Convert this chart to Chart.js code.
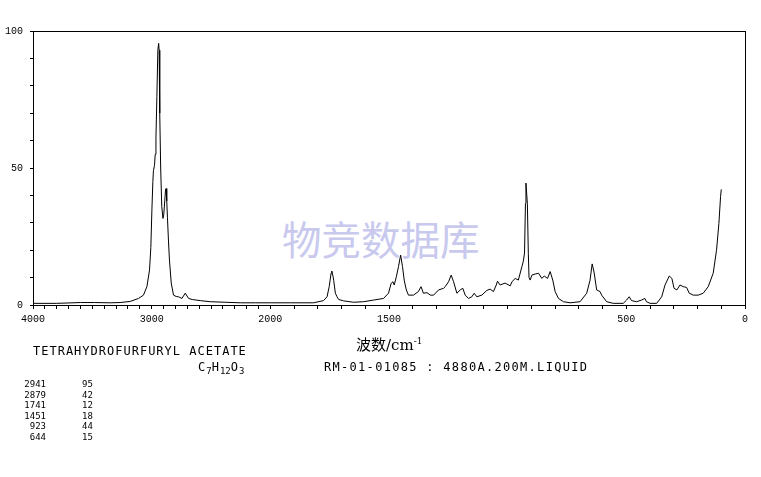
<!DOCTYPE html>
<html>
<head>
<meta charset="utf-8">
<script src="https://cdn.jsdelivr.net/npm/chart.js@4.4.1/dist/chart.umd.min.js"></script>
<style>
  body { margin: 0; background: #fff; }
  #wrap { position: relative; width: 761px; height: 477px; overflow: hidden; }
  #myChart { position: absolute; left: 0; top: 0; }
  .txt { position: absolute; white-space: nowrap; line-height: 1; color: #000; }
  .mono { font-family: "DejaVu Sans Mono", monospace; }
  #watermark { left: 282px; top: 218px; font-family: "Noto Sans CJK SC"; font-size: 39.5px; color: #c9c9ee; }
  #xtitle { left: 356px; top: 337px; font-family: "DejaVu Serif", "Noto Sans CJK SC"; font-size: 15px; }
  #xtitle sup { font-size: 9px; vertical-align: 6px; }
  #name { left: 33px; top: 345px; font-size: 12px; letter-spacing: 1px; }
  #formula { left: 198px; top: 361px; font-size: 12px; letter-spacing: 1px; }
  #formula sub { font-size: 9px; vertical-align: -3px; letter-spacing: 0; }
  #code { left: 324px; top: 361px; font-size: 12px; letter-spacing: 1.3px; }
  .peak { font-size: 9px; }
</style>
</head>
<body>
<div id="wrap">
  <div id="watermark" class="txt">物竞数据库</div>
  <canvas id="myChart" width="761" height="477"></canvas>
  <div id="xtitle" class="txt">波数/cm<sup>-1</sup></div>
  <div id="name" class="txt mono">TETRAHYDROFURFURYL ACETATE</div>
  <div id="formula" class="txt mono">C<sub>7</sub>H<sub>12</sub>O<sub>3</sub></div>
  <div id="code" class="txt mono">RM-01-01085 : 4880A.200M.LIQUID</div>
  <div id="peaks"></div>
</div>
<script>
// spectrum, wavenumber (cm-1) and intensity
var wavenumbers = [4000, 3800, 3600, 3480, 3350, 3266, 3181, 3111, 3069, 3040, 3018, 3007, 2998, 2990, 2985, 2976, 2970, 2964, 2956, 2948,
    2941, 2937, 2932, 2924, 2915, 2905, 2898, 2890, 2883, 2879, 2873, 2867, 2858, 2850, 2835, 2816, 2793, 2774, 2745, 2717,
    2689, 2658, 2590, 2506, 2380, 2253, 2127, 2000, 1916, 1818, 1776, 1761, 1752, 1744, 1741, 1736, 1733, 1726, 1719, 1712,
    1691, 1649, 1607, 1565, 1523, 1502, 1491, 1483, 1478, 1469, 1460, 1451, 1443, 1436, 1427, 1418, 1397, 1376, 1365, 1355,
    1340, 1326, 1312, 1291, 1270, 1263, 1249, 1238, 1228, 1214, 1200, 1189, 1179, 1165, 1151, 1141, 1130, 1109, 1088, 1074,
    1060, 1048, 1043, 1032, 1011, 989, 982, 968, 955, 940, 934, 929, 925, 923, 917, 913, 910, 905, 898, 884,
    870, 856, 846, 832, 821, 810, 800, 786, 765, 737, 695, 667, 653, 644, 636, 625, 611, 604, 583, 555,
    513, 499, 488, 478, 457, 436, 422, 415, 400, 372, 351, 337, 319, 308, 299, 287, 274, 260, 246, 235,
    218, 197, 176, 155, 134, 120, 110, 103, 100];
var intensities = [0.6, 0.6, 0.9, 0.9, 0.8, 0.9, 1.3, 2.4, 3.6, 6.7, 12.8, 21, 34.7, 45, 49, 51, 55, 61, 76, 93,
    95.5, 93, 70, 50, 36, 31.6, 33, 38, 42, 42.5, 38, 32, 23, 16.4, 8, 3.6, 3.1, 3, 2.4, 4.3,
    2.4, 2.0, 1.6, 1.2, 1.0, 0.8, 0.8, 0.8, 0.8, 0.8, 1.6, 3, 6.7, 11.6, 12.4, 10.5, 9, 4.3, 3, 2,
    1.5, 1.0, 1.2, 1.8, 2.4, 4.3, 7.9, 8.5, 7.3, 10.3, 14, 18.2, 14, 9.1, 5.5, 3.6, 3.6, 4.9, 6.7, 4.3,
    4.5, 3.6, 3.6, 5.5, 6.1, 6.7, 8.5, 10.9, 8.5, 4.3, 5.5, 6.1, 3.6, 2.4, 3, 4.3, 3, 3.6, 5.3, 5.8,
    4.9, 7.3, 8.7, 7.3, 8, 7, 8.5, 9.7, 9.1, 14, 16, 19, 37, 44.5, 37, 18.9, 10, 9.1, 10.9, 11.3,
    11.6, 9.7, 10.6, 9.7, 12.2, 9.1, 4.9, 2.4, 1.2, 0.8, 1.2, 4.3, 9, 15, 12, 5.5, 4.9, 3.6, 1.2, 0.6,
    0.6, 1.8, 3, 1.6, 1.2, 1.8, 2.4, 1.2, 0.6, 0.6, 3, 7.3, 10.6, 9.7, 6.1, 5.5, 7.3, 6.7, 6.4, 4.3,
    3.6, 3.6, 4.3, 6.7, 11.6, 20, 29.8, 39.5, 42.2];

var peakWavenumbers = [2941, 2879, 1741, 1451, 923, 644];
var peakIntensities = [95, 42, 12, 18, 44, 15];
var xTickLabels = [4000, 3000, 2000, 1500, 500, 0];
var yTickLabels = [0, 50, 100];

// above 2000 the axis is squeezed to half scale
function toU(v) { return v <= 2000 ? v : 2000 + (v - 2000) / 2; }
function fromU(u) { return u <= 2000 ? u : 2000 + (u - 2000) * 2; }

class SplitScale extends Chart.LinearScale {
    getPixelForValue(value) {
        var umin = toU(this.min), umax = toU(this.max);
        return this.getPixelForDecimal((toU(value) - umin) / (umax - umin));
    }
    getValueForPixel(pixel) {
        var umin = toU(this.min), umax = toU(this.max);
        return fromU(umin + this.getDecimalForPixel(pixel) * (umax - umin));
    }
}
SplitScale.id = 'split';
SplitScale.defaults = Chart.LinearScale.defaults;
Chart.register(SplitScale);

var framePlugin = {
    id: 'frame',
    afterDraw: function (chart) {
        var a = chart.chartArea, c = chart.ctx;
        c.save();
        c.strokeStyle = '#000';
        c.lineWidth = 1;
        c.strokeRect(Math.round(a.left) + 0.5, Math.round(a.top) + 0.5, Math.round(a.right - a.left), Math.round(a.bottom - a.top));
        c.restore();
    }
};

var points = wavenumbers.map(function (w, i) { return { x: w, y: intensities[i] }; });

var tickFont = { family: 'Liberation Mono', size: 10 };

window.onload = function () {
    var ctx = document.getElementById('myChart').getContext('2d');
    new Chart(ctx, {
        type: 'line',
        data: {
            datasets: [{
                data: points,
                borderColor: '#000',
                borderWidth: 1,
                pointRadius: 0,
                tension: 0,
                fill: false
            }]
        },
        options: {
            responsive: false,
            animation: false,
            events: [],
            layout: { padding: { top: 31, right: 16, left: 0, bottom: 0 } },
            plugins: { legend: { display: false }, tooltip: { enabled: false } },
            scales: {
                x: {
                    type: 'split',
                    min: 0,
                    max: 4000,
                    reverse: true,
                    afterFit: function (s) { s.height = 172; },
                    afterBuildTicks: function (s) {
                        var t = [];
                        for (var v = 4000; v >= 0; v -= 100) t.push({ value: v });
                        s.ticks = t;
                    },
                    grid: { drawOnChartArea: false, tickLength: 4, color: '#000' },
                    border: { color: '#000' },
                    ticks: {
                        autoSkip: false,
                        maxRotation: 0,
                        padding: 4,
                        color: '#000',
                        font: tickFont,
                        callback: function (v) { return xTickLabels.indexOf(v) >= 0 ? String(v) : ''; }
                    }
                },
                y: {
                    min: 0,
                    max: 100,
                    afterFit: function (s) { s.width = 33; },
                    afterBuildTicks: function (s) {
                        var t = [];
                        for (var v = 0; v <= 100; v += 10) t.push({ value: v });
                        s.ticks = t;
                    },
                    grid: { drawOnChartArea: false, tickLength: 3, color: '#000' },
                    border: { color: '#000' },
                    ticks: {
                        autoSkip: false,
                        padding: 7,
                        color: '#000',
                        font: tickFont,
                        callback: function (v) { return yTickLabels.indexOf(v) >= 0 ? String(v) : ''; }
                    }
                }
            }
        },
        plugins: [framePlugin]
    });

    // peak table under the chart
    var box = document.getElementById('peaks');
    peakWavenumbers.forEach(function (w, i) {
        var top = 380 + i * 10.5;
        var a = document.createElement('div');
        a.className = 'txt mono peak';
        a.style.left = '18px'; a.style.width = '28px'; a.style.textAlign = 'right'; a.style.top = top + 'px';
        a.textContent = w;
        var b = document.createElement('div');
        b.className = 'txt mono peak';
        b.style.left = '82px'; b.style.top = top + 'px';
        b.textContent = peakIntensities[i];
        box.appendChild(a); box.appendChild(b);
    });
};
</script>
</body>
</html>
